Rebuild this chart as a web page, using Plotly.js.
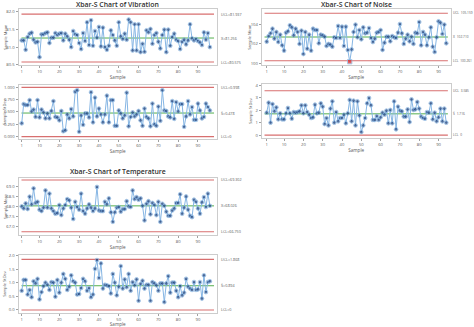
<!DOCTYPE html>
<html>
<head>
<meta charset="utf-8">
<script src="https://cdn.plot.ly/plotly-3.0.1.min.js"></script>
<style>
  html, body { margin: 0; padding: 0; background: #ffffff; }
  #chart { width: 474px; height: 327px; }
</style>
</head>
<body>
<div id="chart"></div>
<script>
// Sample numbers shown on every x axis
const sampleTicks = [1, 10, 20, 30, 40, 50, 60, 70, 80, 90];

// Vibration: subgroup means and standard deviations
const vibMean = [
  81.189, 81.189, 80.922, 81.285, 81.380, 81.409, 81.208, 81.132, 81.151, 80.712,
  81.361, 81.361, 81.399, 81.418, 81.113, 81.266, 81.266, 81.399, 81.342, 81.380,
  81.399, 81.189, 81.380, 81.304, 81.208, 80.998, 81.456, 81.361, 81.342, 81.113,
  80.941, 81.399, 81.170, 81.704, 81.056, 81.762, 81.037, 81.456, 81.266, 81.571,
  81.018, 81.552, 80.998, 80.922, 81.037, 81.475, 81.342, 81.189, 81.037, 81.704,
  81.304, 81.227, 81.380, 81.208, 81.781, 81.704, 80.903, 81.647, 80.903, 81.647,
  80.855, 81.094, 80.865, 81.475, 81.418, 81.514, 81.094, 81.342, 81.399, 81.151,
  80.960, 81.342, 81.495, 80.855, 81.495, 81.037, 81.285, 81.380, 81.208, 81.170,
  80.941, 81.151, 81.208, 81.075, 81.189, 81.647, 81.246, 81.189, 81.227, 81.170,
  81.132, 81.056, 81.418, 81.208, 81.399, 80.998
];
const vibStDev = [
  0.27, 0.66, 0.64, 0.64, 0.74, 0.51, 0.55, 0.40, 0.74, 0.39,
  0.55, 0.49, 0.37, 0.47, 0.37, 0.52, 0.72, 0.40, 0.39, 0.33,
  0.52, 0.11, 0.13, 0.45, 0.37, 0.56, 0.41, 0.91, 0.94, 0.10,
  0.43, 0.24, 0.47, 0.47, 0.39, 0.90, 0.29, 0.79, 0.41, 0.57,
  0.45, 0.29, 0.45, 0.83, 0.29, 0.74, 0.74, 0.22, 0.22, 0.53,
  0.47, 0.37, 0.43, 0.89, 0.21, 0.40, 0.49, 0.41, 0.45, 0.52,
  0.33, 0.22, 0.57, 0.40, 0.37, 0.21, 0.67, 0.25, 0.22, 0.61,
  0.32, 0.94, 0.53, 0.52, 0.41, 0.39, 0.72, 0.36, 0.70, 0.51,
  0.66, 0.66, 0.20, 0.41, 0.72, 0.45, 0.60, 0.34, 0.34, 0.67,
  0.53, 0.37, 0.40, 0.67, 0.60, 0.53
];
const vibMeanLimits = [81.937, 81.256, 80.575];   // UCL, centre, LCL
const vibStDevLimits = [0.998, 0.478, 0];

// Noise: subgroup means and standard deviations
const noiseMean = [
  102.23, 102.81, 103.09, 103.57, 102.54, 103.23, 102.19, 102.95, 101.85, 101.30,
  103.16, 103.30, 103.92, 103.71, 102.88, 103.57, 103.23, 101.99, 103.37, 100.95,
  103.23, 101.50, 102.95, 101.30, 103.57, 103.43, 103.43, 102.06, 102.95, 102.88,
  102.74, 101.78, 101.99, 101.92, 101.71, 102.68, 102.61, 103.85, 102.61, 103.78,
  101.78, 103.78, 101.37, 100.16, 101.43, 103.23, 103.99, 102.68, 103.43, 102.47,
  103.71, 103.09, 103.16, 103.64, 102.61, 102.19, 102.54, 103.16, 103.23, 103.43,
  101.37, 102.12, 102.74, 102.74, 102.26, 102.81, 102.68, 102.61, 103.16, 104.05,
  103.09, 101.99, 102.54, 102.95, 102.26, 102.74, 101.99, 103.16, 103.09, 104.26,
  101.85, 103.23, 102.95, 101.85, 102.68, 103.71, 101.71, 101.16, 102.68, 104.33,
  104.19, 103.02, 103.99, 102.06
];
const noiseStDev = [
  1.81, 2.62, 1.00, 2.51, 1.92, 2.24, 1.27, 1.76, 1.27, 1.27,
  1.76, 2.19, 1.76, 1.32, 1.86, 1.81, 1.86, 1.92, 2.41, 1.76,
  2.41, 1.86, 1.65, 1.38, 1.43, 2.46, 1.76, 1.81, 2.57, 2.30,
  0.89, 1.38, 0.78, 2.14, 2.73, 1.00, 1.86, 1.11, 1.38, 1.38,
  1.65, 0.95, 1.76, 2.84, 1.11, 2.78, 0.78, 2.73, 1.59, 0.24,
  0.78, 1.38, 2.57, 3.00, 2.41, 1.22, 1.22, 1.54, 1.22, 1.43,
  1.81, 1.65, 1.97, 0.95, 2.03, 0.95, 2.73, 0.46, 2.30, 1.97,
  1.92, 1.49, 1.49, 2.08, 1.05, 2.89, 2.03, 2.08, 2.68, 2.14,
  1.49, 1.38, 1.32, 1.86, 1.81, 2.57, 1.27, 1.81, 1.11, 1.43,
  2.14, 1.11, 2.14, 1.00
];
const noiseMeanLimits = [105.159, 102.710, 100.261];
const noiseStDevLimits = [3.585, 1.716, 0];

// Temperature: subgroup means and standard deviations
const tempMean = [
  68.00, 67.90, 68.15, 67.87, 68.48, 68.10, 68.89, 68.17, 68.23, 67.84,
  67.77, 67.94, 68.79, 67.94, 68.63, 67.90, 67.77, 67.64, 67.67, 68.07,
  67.57, 67.90, 68.07, 68.36, 68.30, 67.94, 67.38, 68.23, 67.97, 67.84,
  68.63, 67.77, 67.64, 67.90, 68.10, 67.94, 67.77, 67.90, 68.96, 67.80,
  67.77, 67.77, 68.23, 68.10, 68.40, 67.71, 67.24, 67.71, 67.94, 67.97,
  67.74, 67.87, 67.87, 68.26, 68.00, 67.97, 68.79, 68.36, 68.46, 68.33,
  68.40, 68.03, 67.31, 68.13, 68.26, 67.61, 68.17, 68.07, 67.57, 68.23,
  67.24, 68.13, 68.03, 67.74, 67.54, 67.54, 67.80, 67.90, 68.17, 68.17,
  68.60, 67.64, 67.94, 68.49, 67.84, 67.54, 67.47, 68.33, 68.23, 67.90,
  67.64, 68.20, 68.46, 67.97, 68.63, 68.03
];
const tempStDev = [
  0.71, 1.11, 1.11, 0.57, 0.74, 0.47, 1.06, 0.98, 1.15, 0.39,
  0.66, 0.88, 1.01, 0.93, 0.74, 1.03, 1.01, 0.49, 1.11, 0.64,
  1.01, 1.33, 1.15, 0.74, 0.86, 1.28, 1.06, 1.01, 0.57, 0.59,
  0.81, 1.15, 1.06, 0.71, 0.81, 0.47, 0.57, 1.52, 1.84, 1.18,
  1.72, 0.79, 0.93, 0.91, 0.88, 0.61, 1.33, 1.01, 0.54, 0.86,
  1.62, 0.79, 1.13, 0.84, 1.33, 0.71, 1.03, 0.91, 1.13, 0.34,
  0.96, 1.08, 0.79, 0.93, 0.93, 0.34, 1.03, 0.98, 0.91, 0.71,
  0.98, 0.98, 0.29, 0.98, 1.25, 0.64, 1.01, 1.01, 0.71, 0.47,
  0.88, 0.54, 0.64, 1.15, 0.86, 0.79, 0.74, 1.03, 0.74, 0.76,
  1.03, 0.42, 1.28, 0.66, 1.03, 1.06
];
const tempMeanLimits = [69.302, 68.026, 66.750];
const tempStDevLimits = [1.868, 0.894, 0];

const W = 474, H = 327;
const px = v => v / W;
const py = v => 1 - v / H;

const FONT = 'Open Sans, Noto Sans, sans-serif';
const TEXT_GREY = '#5a5a5a';
const LIMIT_RED = '#d86f6f';
const CENTER_GREEN = '#55b04f';
const LINE_BLUE = '#86b6e4';
const DOT_NAVY = '#1b3d78';

// one entry per panel: data, limits and the box it occupies (in pixels: left, right, top, bottom)
const panels = [
  { vals: vibMean, lim: vibMeanLimits, sym: 'X\u033F', box: [18.5, 217, 9, 65],
    yr: [80.49, 82.08], yt: [80.5, 81.0, 81.5, 82.0], fmt: '.1f', xr: [-0.62, 99.6],
    ytitle: 'Sample Mean', titleX: 5, labelSize: 3.7, labelGap: 3 },
  { vals: vibStDev, lim: vibStDevLimits, sym: 'S\u0304', box: [18.5, 217, 85, 139],
    yr: [-0.047, 1.045], yt: [0, 0.25, 0.5, 0.75, 1.0], fmt: '.3f', xr: [-0.62, 99.6],
    ytitle: 'Sample StDev', titleX: 4, labelSize: 3.7, labelGap: 3 },
  { vals: noiseMean, lim: noiseMeanLimits, sym: 'X\u033F', box: [261.7, 450.7, 8.7, 65],
    yr: [99.82, 105.63], yt: [100, 102, 104], fmt: 'd', xr: [-1.59, 96.3],
    ytitle: 'Sample Mean', titleX: 250, labelSize: 3.2, labelGap: 1.5 },
  { vals: noiseStDev, lim: noiseStDevLimits, sym: 'S\u0304', box: [261.7, 450.7, 84, 138],
    yr: [-0.24, 4.13], yt: [0, 1, 2, 3, 4], fmt: 'd', xr: [-1.59, 96.3],
    ytitle: 'Sample StDev', titleX: 251, labelSize: 3.2, labelGap: 1.5 },
  { vals: tempMean, lim: tempMeanLimits, sym: 'X\u033F', box: [18.5, 217, 177.7, 235],
    yr: [66.59, 69.415], yt: [67.0, 67.5, 68.0, 68.5, 69.0], fmt: '.1f', xr: [-0.62, 99.6],
    ytitle: 'Sample Mean', titleX: 5, labelSize: 3.7, labelGap: 3 },
  { vals: tempStDev, lim: tempStDevLimits, sym: 'S\u0304', box: [18.5, 217, 255, 312.7],
    yr: [-0.1, 2.027], yt: [0, 0.5, 1.0, 1.5, 2.0], fmt: '.1f', xr: [-0.62, 99.6],
    ytitle: 'Sample StDev', titleX: 5, labelSize: 3.7, labelGap: 3 }
];

const chartTitles = [
  { text: 'Xbar-S Chart of Vibration', x: 117.7, y: 5 },
  { text: 'Xbar-S Chart of Noise', x: 356, y: 5 },
  { text: 'Xbar-S Chart of Temperature', x: 117.7, y: 171 }
];

const traces = [];
const shapes = [];
const annotations = [];
const layout = {
  width: W, height: H,
  margin: { l: 0, r: 0, t: 0, b: 0 },
  paper_bgcolor: '#ffffff',
  plot_bgcolor: '#ffffff',
  showlegend: false,
  font: { family: FONT, color: TEXT_GREY, size: 5 }
};

panels.forEach((p, i) => {
  const n = i + 1;
  const xa = n === 1 ? 'x' : 'x' + n;
  const ya = n === 1 ? 'y' : 'y' + n;
  const [ucl, center, lcl] = p.lim;
  const xs = p.vals.map((_, k) => k + 1);
  const out = p.vals.map(v => v > ucl || v < lcl);

  traces.push({
    type: 'scatter', mode: 'lines+markers',
    x: xs, y: p.vals, xaxis: xa, yaxis: ya,
    line: { color: LINE_BLUE, width: 1 },
    marker: {
      size: out.map(o => o ? 4.4 : 3.7),
      color: out.map(o => o ? '#e0201b' : DOT_NAVY),
      symbol: out.map(o => o ? 'square' : 'circle')
    },
    hoverinfo: 'x+y'
  });

  // control limit and centre lines
  [[ucl, LIMIT_RED, 1.2], [lcl, LIMIT_RED, 1.2], [center, CENTER_GREEN, 1.0]].forEach(([v, c, w]) => {
    shapes.push({
      type: 'line', xref: xa + ' domain', yref: ya,
      x0: 0.015, x1: 0.985, y0: v, y1: v,
      line: { color: c, width: w }, layer: 'below'
    });
  });

  // labels to the right of the box
  const lx = px(p.box[1] + p.labelGap);
  const fmtVal = v => (v === 0 ? '0' : v.toFixed(3));
  [['UCL=' + fmtVal(ucl), ucl], [p.sym + '=' + fmtVal(center), center], ['LCL=' + fmtVal(lcl), lcl]]
    .forEach(([t, v]) => {
      annotations.push({
        xref: 'paper', yref: ya, x: lx, y: v, text: t, showarrow: false,
        xanchor: 'left', yanchor: 'middle', borderpad: 0,
        font: { family: FONT, size: p.labelSize, color: TEXT_GREY }
      });
    });

  // rotated y axis title
  annotations.push({
    xref: 'paper', yref: 'paper', x: px(p.titleX), y: py((p.box[2] + p.box[3]) / 2),
    text: p.ytitle, textangle: -90, showarrow: false,
    xanchor: 'center', yanchor: 'middle',
    font: { family: FONT, size: 4, color: TEXT_GREY }
  });

  layout['xaxis' + (n === 1 ? '' : n)] = {
    domain: [px(p.box[0]), px(p.box[1])],
    anchor: ya, range: p.xr,
    tickvals: sampleTicks, ticks: 'outside', ticklen: 2, tickcolor: '#a0a0a0',
    tickfont: { size: 4.2, color: TEXT_GREY, family: FONT },
    showgrid: false, zeroline: false,
    showline: true, mirror: true, linecolor: '#cccccc', linewidth: 1,
    title: { text: 'Sample', font: { size: 4.6, color: TEXT_GREY, family: FONT }, standoff: 2 }
  };
  layout['yaxis' + (n === 1 ? '' : n)] = {
    domain: [py(p.box[3]), py(p.box[2])],
    anchor: xa, range: p.yr,
    tickvals: p.yt, tickformat: p.fmt, ticks: 'outside', ticklen: 2, tickcolor: '#a0a0a0',
    tickfont: { size: 4.2, color: TEXT_GREY, family: FONT },
    showgrid: false, zeroline: false,
    showline: true, mirror: true, linecolor: '#cccccc', linewidth: 1
  };
});

chartTitles.forEach(t => {
  annotations.push({
    xref: 'paper', yref: 'paper', x: px(t.x), y: py(t.y),
    text: t.text, showarrow: false, xanchor: 'center', yanchor: 'middle',
    font: { family: FONT, size: 6.9, color: '#2e2e2e', weight: 600 }
  });
});

layout.shapes = shapes;
layout.annotations = annotations;

Plotly.newPlot('chart', traces, layout, { displayModeBar: false, staticPlot: true });
</script>
</body>
</html>
